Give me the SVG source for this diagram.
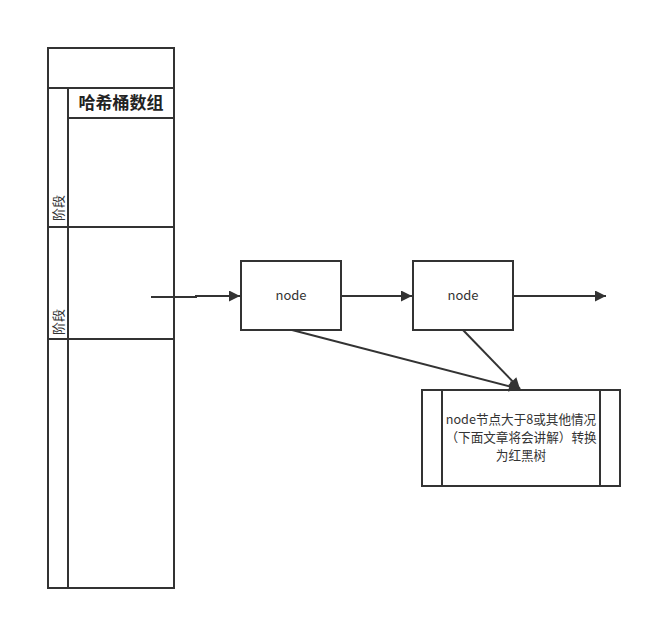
<svg xmlns="http://www.w3.org/2000/svg" width="652" height="620" viewBox="0 0 652 620">
<style>
.s{fill:#fff;stroke:#333;stroke-width:2}
.l{fill:none;stroke:#333;stroke-width:2}
.t{font-family:"Noto Sans CJK SC","Noto Sans",sans-serif;font-size:13px;fill:#333}
.m{font-family:"Noto Sans CJK SC","Noto Sans",sans-serif;font-size:12.6px;fill:#333}
.b{font-family:"Noto Sans CJK SC",sans-serif;font-size:17px;font-weight:bold;fill:#222}
</style>
<defs>
<marker id="a" viewBox="0 0 10 10" refX="10" refY="5" markerWidth="16" markerHeight="11" markerUnits="userSpaceOnUse" orient="auto">
<path d="M0,0 L10,5 L0,10 Z" fill="#333"/>
</marker>
</defs>
<rect width="652" height="620" fill="#fff"/>
<g id="hash-array">
<rect class="s" x="48" y="48" width="126" height="540"/>
<line class="l" x1="48" y1="88" x2="174" y2="88"/>
<line class="l" x1="68" y1="88" x2="68" y2="588"/>
<line class="l" x1="68" y1="118" x2="174" y2="118"/>
<line class="l" x1="48" y1="227" x2="174" y2="227"/>
<line class="l" x1="48" y1="339" x2="174" y2="339"/>
<text class="b" x="121" y="109" text-anchor="middle">哈希桶数组</text>
<text class="t" transform="translate(63,208) rotate(-90)" text-anchor="middle">阶段</text>
<text class="t" transform="translate(63,322) rotate(-90)" text-anchor="middle">阶段</text>
</g>
<g id="node1">
<rect class="s" x="241" y="261" width="100" height="69"/>
<text class="t" x="291" y="300" text-anchor="middle">node</text>
</g>
<g id="node2">
<rect class="s" x="413" y="261" width="100" height="69"/>
<text class="t" x="463" y="300" text-anchor="middle">node</text>
</g>
<g id="rbtree">
<rect class="s" x="422" y="390" width="198" height="96"/>
<line class="l" x1="442" y1="390" x2="442" y2="486"/>
<line class="l" x1="600" y1="390" x2="600" y2="486"/>
<text class="m" x="521" y="424" text-anchor="middle">node节点大于8或其他情况</text>
<text class="m" x="521" y="442" text-anchor="middle">（下面文章将会讲解）转换</text>
<text class="m" x="521" y="460" text-anchor="middle">为红黑树</text>
</g>
<g id="connectors">
<polyline class="l" points="151,297 196,297 196,296 240,296" marker-end="url(#a)"/>
<line class="l" x1="341" y1="296" x2="412" y2="296" marker-end="url(#a)"/>
<line class="l" x1="513" y1="296" x2="606" y2="296" marker-end="url(#a)"/>
<line class="l" x1="292" y1="330" x2="520" y2="389" marker-end="url(#a)"/>
<line class="l" x1="463" y1="330" x2="520" y2="389" marker-end="url(#a)"/>
</g>
</svg>
